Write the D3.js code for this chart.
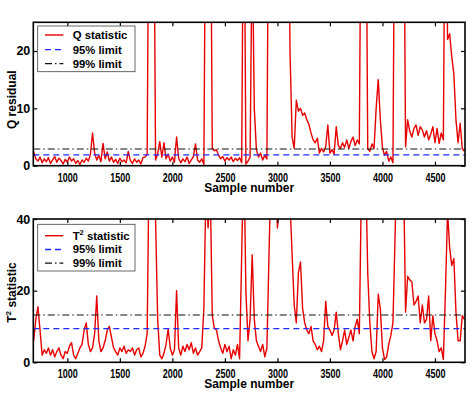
<!DOCTYPE html>
<html>
<head>
<meta charset="utf-8">
<script src="https://cdn.jsdelivr.net/npm/d3@7"></script>
<style>
  body { margin: 0; background: #fff; }
  text { font-family: "Liberation Sans", Arial, sans-serif; font-weight: bold; fill: #000; }
</style>
</head>
<body>
<script>
// samples are read every 20 points, starting at sample 680
var sampleStart = 680, sampleStep = 20;

var qValues = [
  2.5, 1.2, 0.8, 1.5, 0.5, 1.2, 0.7, 1.4, 0.4, 1.0,
  1.6, 0.6, 1.3, 0.9, 0.3, 1.1, 0.6, 1.5, 0.8, 1.2,
  0.4, 0.9, 0.2, 1.0, 0.6, 1.3, 0.8, 2.0, 5.7, 2.2,
  1.0, 1.8, 0.7, 3.9, 1.2, 2.4, 0.8, 1.5, 0.6, 1.1,
  0.4, 1.3, 0.7, 1.0, 0.5, 2.5, 0.9, 0.4, 1.2, 0.6,
  1.0, 0.3, 1.4, 1.5, 2.0, 60, 60, 60, 1.0, 2.0,
  4.2, 1.5, 4.0, 1.2, 2.0, 0.8, 1.5, 0.6, 5.0, 1.3,
  0.5, 1.2, 0.7, 1.5, 0.4, 1.0, 1.6, 3.8, 1.0, 0.6,
  1.2, 0.2, 60, 60, 60, 3.0, 2.6, 2.8, 1.8, 1.2,
  1.6, 0.8, 1.4, 1.0, 1.5, 0.7, 1.3, 0.9, 1.4, 0.5,
  60, 0.3, 0.8, 1.5, 40, 10, 2.8, 1.5, 2.2, 1.0,
  1.8, 1.2, 60, 60, 60, 60, 60, 60, 60, 60,
  60, 60, 20, 5, 3.0, 11.4, 9.5, 10.0, 8.8, 9.2,
  8.0, 7.2, 5.7, 4.5, 4.0, 4.8, 2.2, 3.0, 2.4, 3.3,
  7.1, 2.2, 2.8, 2.0, 6.8, 3.5, 3.0, 4.0, 3.2, 4.5,
  3.0, 4.2, 5.0, 3.5, 4.5, 3.8, 60, 60, 60, 3.0,
  2.5, 3.8, 3.0, 10, 15, 8, 3.2, 1.8, 2.5, 0.8,
  1.5, 0.5, 60, 60, 60, 60, 60, 3.3, 8.0, 6.0,
  5.0, 6.5, 7.1, 5.3, 6.8, 6.2, 5.0, 6.1, 4.5, 5.5,
  6.8, 4.0, 6.5, 3.9, 5.7, 4.5, 60, 22, 23, 19,
  16, 8, 4, 7.4, 3, 2.5
];

var t2Values = [
  6, 12, 15.5, 9, 2, 3.5, 2.5, 4, 2, 3.5,
  1.5, 3, 4, 2, 1, 3, 2.5, 4.5, 5.5, 2,
  1, 2.5, 4, 5, 9, 11, 5, 3, 4, 8,
  18.5, 6, 3, 4, 6, 9, 10, 7, 4, 3,
  2, 4, 3, 4.5, 2.5, 3.5, 3, 4, 2, 3.5,
  4, 1.5, 2.5, 4.5, 8, 60, 60, 60, 40, 12,
  2, 1, 2.5, 5, 9.3, 4, 2, 3.5, 20, 4,
  2, 4.5, 3, 5, 3.5, 5.5, 2.5, 4, 2, 3,
  4, 15, 50, 37.5, 50, 13, 9.5, 9, 6, 4,
  2.5, 5, 3, 4.5, 1, 3.5, 2, 5, 1, 30,
  60, 20, 6, 12, 30, 12, 6, 4.5, 3, 5,
  1.5, 4, 30, 55, 60, 60, 37.5, 45, 60, 60,
  60, 60, 45, 30, 16, 11, 25, 28, 15, 11,
  9, 8, 10, 6, 5, 3.5, 4.5, 3, 6, 17,
  10, 9, 7.5, 9, 14, 8, 3.5, 6, 9, 5,
  7, 9, 6, 10, 12, 8, 50, 60, 55, 25,
  11, 3, 1, 3, 19, 15, 4, 0.8, 1.5, 5,
  7.5, 11, 35, 60, 60, 60, 55, 14, 24, 23,
  22.5, 16, 17, 18.5, 11, 16, 11, 12, 18.5, 6,
  13, 8, 6, 3, 4, 0.8, 20, 42, 32, 27,
  29, 14, 6, 6, 13, 12
];

var qLimits = [1.9, 2.9];      // 95%, 99%
var t2Limits = [9.4, 13.2];
var xTicks = [1000, 1500, 2000, 2500, 3000, 3500, 4000, 4500];
var qTicks = [0, 10, 20];
var t2Ticks = [0, 20, 40];
var legendLabels = ["95% limit", "99% limit"];

var width = 474, height = 393;
var red = "#e60000", blue = "#1f2bff";

var svg = d3.select("body").append("svg").attr("width", width).attr("height", height);

var x = d3.scaleLinear().domain([676, 4786]).range([33.3, 465]);

function drawPanel(p) {
  var y = d3.scaleLinear().domain([0, p.yMax]).range([p.bottom, p.top]);
  var g = svg.append("g");

  g.append("clipPath").attr("id", "clip-" + p.id)
    .append("rect")
    .attr("x", x.range()[0]).attr("y", p.top)
    .attr("width", x.range()[1] - x.range()[0]).attr("height", p.bottom - p.top);

  var line = d3.line()
    .x(function (d, i) { return x(sampleStart + i * sampleStep); })
    .y(function (d) { return y(d); });

  g.append("path").datum(p.values)
    .attr("clip-path", "url(#clip-" + p.id + ")")
    .attr("fill", "none").attr("stroke", red).attr("stroke-width", 1.4)
    .attr("stroke-linejoin", "round")
    .attr("d", line);

  // control limits
  g.append("line")
    .attr("x1", x.range()[0]).attr("x2", x.range()[1])
    .attr("y1", y(p.limits[0])).attr("y2", y(p.limits[0]))
    .attr("stroke", blue).attr("stroke-width", 1.3).attr("stroke-dasharray", "6,4");
  g.append("line")
    .attr("x1", x.range()[0]).attr("x2", x.range()[1])
    .attr("y1", y(p.limits[1])).attr("y2", y(p.limits[1]))
    .attr("stroke", "#111").attr("stroke-width", 1.1).attr("stroke-dasharray", "7,3,1.5,3");

  // axes, ticks inward
  g.append("g").attr("transform", "translate(0," + p.bottom + ")")
    .call(d3.axisBottom(x).tickValues(xTicks).tickFormat(d3.format("d"))
      .tickSizeInner(-4).tickSizeOuter(0).tickPadding(7))
    .call(function (a) { a.select(".domain").remove(); })
    .selectAll("text")
    .attr("font-size", 12.5).attr("font-family", null)
    .attr("textLength", 20).attr("lengthAdjust", "spacingAndGlyphs");

  g.append("g").attr("transform", "translate(0," + p.top + ")")
    .call(d3.axisTop(x).tickValues(xTicks).tickSizeInner(-4).tickSizeOuter(0).tickFormat(""))
    .call(function (a) { a.select(".domain").remove(); });

  g.append("g").attr("transform", "translate(" + x.range()[0] + ",0)")
    .call(d3.axisLeft(y).tickValues(p.yTicks).tickSizeInner(-4).tickSizeOuter(0).tickPadding(3))
    .call(function (a) { a.select(".domain").remove(); })
    .selectAll("text").attr("font-size", 12.5).attr("font-family", null);

  g.append("g").attr("transform", "translate(" + x.range()[1] + ",0)")
    .call(d3.axisRight(y).tickValues(p.yTicks).tickSizeInner(-4).tickSizeOuter(0).tickFormat(""))
    .call(function (a) { a.select(".domain").remove(); });

  g.selectAll(".tick line").attr("stroke", "#000").attr("stroke-width", 1.2);

  g.append("rect")
    .attr("x", x.range()[0]).attr("y", p.top)
    .attr("width", x.range()[1] - x.range()[0]).attr("height", p.bottom - p.top)
    .attr("fill", "none").attr("stroke", "#000").attr("stroke-width", 1.6);

  // axis titles
  g.append("text")
    .attr("x", (x.range()[0] + x.range()[1]) / 2).attr("y", p.bottom + 26)
    .attr("text-anchor", "middle").attr("font-size", 12)
    .text("Sample number");

  var yt = g.append("text")
    .attr("transform", "translate(16," + p.yLabelCenter + ") rotate(-90)")
    .attr("text-anchor", "middle").attr("font-size", 12);
  p.yLabel(yt);

  // legend
  var lg = g.append("g").attr("transform", "translate(37.7," + p.legendTop + ")");
  lg.append("rect").attr("width", 97.3).attr("height", p.legendH)
    .attr("fill", "#fff").attr("stroke", "#444").attr("stroke-width", 0.8);

  var rows = [
    { stroke: red, dash: null, w: 1.4 },
    { stroke: blue, dash: "6,4", w: 1.3 },
    { stroke: "#111", dash: "7,3,1.5,3", w: 1.1 }
  ];
  rows.forEach(function (r, i) {
    var cy = p.legendRows[i];
    lg.append("line").attr("x1", 7.3).attr("x2", 25.6).attr("y1", cy).attr("y2", cy)
      .attr("stroke", r.stroke).attr("stroke-width", r.w).attr("stroke-dasharray", r.dash);
    var t = lg.append("text").attr("x", 35).attr("y", cy + 4).attr("font-size", 11.3);
    if (i === 0) p.seriesLabel(t);
    else t.text(legendLabels[i - 1]);
  });
}

drawPanel({
  id: "q", top: 22.3, bottom: 165.7, yMax: 25, yTicks: qTicks,
  values: qValues, limits: qLimits, yLabelCenter: 99.7,
  legendTop: 26, legendH: 45.7, legendRows: [9, 23.6, 37.6],
  yLabel: function (t) { t.text("Q residual"); },
  seriesLabel: function (t) { t.text("Q statistic"); }
});

drawPanel({
  id: "t2", top: 219, bottom: 362.3, yMax: 40, yTicks: t2Ticks,
  values: t2Values, limits: t2Limits, yLabelCenter: 292.5,
  legendTop: 224.3, legendH: 46.7, legendRows: [11.4, 25.2, 38.8],
  yLabel: function (t) {
    t.append("tspan").text("T");
    t.append("tspan").attr("dy", -5).attr("font-size", 8).text("2");
    t.append("tspan").attr("dy", 5).text(" statistic");
  },
  seriesLabel: function (t) {
    t.append("tspan").text("T");
    t.append("tspan").attr("dy", -5).attr("font-size", 7.5).text("2");
    t.append("tspan").attr("dy", 5).text(" statistic");
  }
});
</script>
</body>
</html>
